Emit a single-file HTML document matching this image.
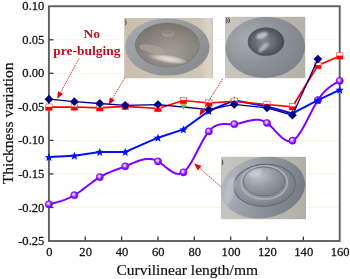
<!DOCTYPE html>
<html><head><meta charset="utf-8"><style>
html,body{margin:0;padding:0;background:#fff;width:350px;height:279px;overflow:hidden}
svg{display:block;will-change:transform}
text{font-family:"Liberation Serif",serif}
</style></head><body>
<svg width="350" height="279" viewBox="0 0 350 279">

<defs>
<clipPath id="cp1"><rect x="124.1" y="18" width="89" height="60.5"/></clipPath>
<clipPath id="cp2"><rect x="225" y="16.6" width="80.5" height="61.8"/></clipPath>
<clipPath id="cp3"><rect x="221" y="156.6" width="85.2" height="62.8"/></clipPath>
<filter id="blur1" x="-50%" y="-50%" width="200%" height="200%"><feGaussianBlur stdDeviation="1.1"/></filter>
<filter id="blur2" x="-20%" y="-20%" width="140%" height="140%"><feGaussianBlur stdDeviation="0.7"/></filter>
<linearGradient id="bg1" x1="0" y1="0" x2="1" y2="0"><stop offset="0" stop-color="#cabfaf"/><stop offset="0.85" stop-color="#cfc4b5"/><stop offset="0.95" stop-color="#dcd4c8"/><stop offset="1" stop-color="#d0c6b8"/></linearGradient>
<linearGradient id="rim1" x1="0" y1="0.2" x2="0.9" y2="1"><stop offset="0" stop-color="#a5aaae"/><stop offset="0.5" stop-color="#96989a"/><stop offset="1" stop-color="#878a8d"/></linearGradient>
<radialGradient id="bowl1" cx="0.55" cy="0.65" r="0.7"><stop offset="0" stop-color="#a29e95"/><stop offset="0.55" stop-color="#8b8780"/><stop offset="1" stop-color="#75716b"/></radialGradient>
<linearGradient id="cres1" x1="0" y1="0" x2="1" y2="0"><stop offset="0" stop-color="#9a9892"/><stop offset="0.2" stop-color="#c9c5ba"/><stop offset="0.5" stop-color="#e4e0d5"/><stop offset="0.8" stop-color="#c9c5ba"/><stop offset="1" stop-color="#9a9892"/></linearGradient>
<radialGradient id="hl1" cx="0.6" cy="0.5" r="0.5"><stop offset="0" stop-color="#e8e3d8"/><stop offset="0.5" stop-color="#d6d1c5" stop-opacity="0.85"/><stop offset="1" stop-color="#c0bcb0" stop-opacity="0"/></radialGradient>
<linearGradient id="bg2" x1="0" y1="0" x2="1" y2="0"><stop offset="0" stop-color="#c8c6c0"/><stop offset="1" stop-color="#b4b1a6"/></linearGradient>
<radialGradient id="rim2" cx="0.3" cy="0.35" r="0.85"><stop offset="0" stop-color="#a7acb2"/><stop offset="0.45" stop-color="#8f949a"/><stop offset="0.85" stop-color="#7e848b"/><stop offset="1" stop-color="#6f757c"/></radialGradient>
<radialGradient id="bowl2" cx="0.45" cy="0.5" r="0.55"><stop offset="0" stop-color="#858a91"/><stop offset="0.6" stop-color="#62676e"/><stop offset="1" stop-color="#454a51"/></radialGradient>
<linearGradient id="bg3" x1="0" y1="0" x2="1" y2="0"><stop offset="0" stop-color="#c6c5c0"/><stop offset="1" stop-color="#b0aea5"/></linearGradient>
<linearGradient id="rim3" x1="0" y1="0.3" x2="1" y2="0.7"><stop offset="0" stop-color="#b2b9c1"/><stop offset="0.45" stop-color="#92989f"/><stop offset="1" stop-color="#737980"/></linearGradient>
<radialGradient id="ring3" cx="0.4" cy="0.4" r="0.65"><stop offset="0.5" stop-color="#979da4"/><stop offset="1" stop-color="#737980"/></radialGradient>
<radialGradient id="bowl3" cx="0.35" cy="0.3" r="0.8"><stop offset="0" stop-color="#c0c5ca"/><stop offset="0.5" stop-color="#959ba1"/><stop offset="1" stop-color="#767c83"/></radialGradient>
<radialGradient id="ball" cx="0.42" cy="0.4" r="0.6"><stop offset="0" stop-color="#f4ecff"/><stop offset="0.25" stop-color="#d0b0ff"/><stop offset="0.55" stop-color="#9030ff"/><stop offset="0.85" stop-color="#8000ff"/><stop offset="1" stop-color="#6c00d8"/></radialGradient>
</defs>
<rect width="350" height="279" fill="#fff"/>
<g stroke="#f5f5e8" stroke-width="1"><line x1="49.9" x2="338.7" y1="39.79" y2="39.79"/><line x1="49.9" x2="338.7" y1="73.32" y2="73.32"/><line x1="49.9" x2="338.7" y1="106.86" y2="106.86"/><line x1="49.9" x2="338.7" y1="140.39" y2="140.39"/><line x1="49.9" x2="338.7" y1="173.93" y2="173.93"/><line x1="49.9" x2="338.7" y1="207.46" y2="207.46"/></g>

<g clip-path="url(#cp1)">
<rect x="124.1" y="18" width="89" height="60.5" fill="url(#bg1)"/>
<ellipse cx="167.4" cy="47" rx="42.2" ry="28.6" fill="url(#rim1)"/>
<ellipse cx="167.4" cy="45" rx="32" ry="22" fill="url(#bowl1)" stroke="#7b7873" stroke-width="0.8"/>
<ellipse cx="164" cy="58.3" rx="23" ry="4.6" fill="url(#hl1)" transform="rotate(9 164 58.3)"/>
<ellipse cx="152" cy="49" rx="13" ry="4" fill="#b2aea5" opacity="0.55" transform="rotate(12 152 49)"/>
<ellipse cx="168" cy="33.5" rx="6" ry="3.5" fill="#a29f99" opacity="0.8"/>
<ellipse cx="168" cy="32" rx="5" ry="2" fill="#7d7a75" opacity="0.6"/>
<text x="124.4" y="23.6" font-size="7" font-weight="bold" fill="#333">)</text>
</g>
<g clip-path="url(#cp2)">
<rect x="225" y="16.6" width="80.5" height="61.8" fill="url(#bg2)"/>
<ellipse cx="265.2" cy="47.4" rx="39.9" ry="30.4" fill="url(#rim2)" transform="rotate(-3 265.2 47.4)"/>
<ellipse cx="266" cy="41.7" rx="18" ry="13.9" fill="url(#bowl2)" stroke="#4a4f56" stroke-width="0.6"/>
<g filter="url(#blur1)"><ellipse cx="262" cy="35.5" rx="6" ry="3" fill="#c8ccd0" opacity="0.85" transform="rotate(-20 262 35.5)"/>
<ellipse cx="263.5" cy="47.5" rx="6.5" ry="2.4" fill="#bfc3c8" opacity="0.8" transform="rotate(-40 263.5 47.5)"/></g>
<text x="225.4" y="22.3" font-size="7" font-weight="bold" fill="#222">))</text>
</g>
<g clip-path="url(#cp3)">
<rect x="221" y="156.6" width="85.2" height="62.8" fill="url(#bg3)"/>
<ellipse cx="263" cy="187.6" rx="42.4" ry="30.4" fill="url(#rim3)" transform="rotate(-10 263 187.6)"/>
<ellipse cx="264.6" cy="185.3" rx="30.8" ry="21" fill="url(#ring3)" stroke="#656b72" stroke-width="1.1" transform="rotate(-4 264.6 185.3)"/>
<ellipse cx="264.2" cy="182.6" rx="23.2" ry="16.5" fill="none" stroke="#adb3b9" stroke-width="1.5"/>
<ellipse cx="264" cy="181.5" rx="20.6" ry="14.5" fill="url(#bowl3)" stroke="#6a7077" stroke-width="0.9"/>
<g filter="url(#blur1)"><ellipse cx="229.5" cy="191" rx="4.5" ry="15" fill="#c3cad1" opacity="0.6" transform="rotate(15 229.5 191)"/>
<ellipse cx="255" cy="173" rx="7" ry="3.5" fill="#d0d4d8" opacity="0.6" transform="rotate(-20 255 173)"/></g>
<text x="221.2" y="163.5" font-size="7" font-weight="bold" fill="#333">)</text>
</g>
<g stroke="#333" stroke-width="1.3"><line x1="48.9" x2="53.4" y1="39.79" y2="39.79"/><line x1="48.9" x2="53.4" y1="73.32" y2="73.32"/><line x1="48.9" x2="53.4" y1="106.86" y2="106.86"/><line x1="48.9" x2="53.4" y1="140.39" y2="140.39"/><line x1="48.9" x2="53.4" y1="173.93" y2="173.93"/><line x1="48.9" x2="53.4" y1="207.46" y2="207.46"/><line x1="85.25" x2="85.25" y1="241.0" y2="236.5"/><line x1="121.60" x2="121.60" y1="241.0" y2="236.5"/><line x1="157.95" x2="157.95" y1="241.0" y2="236.5"/><line x1="194.30" x2="194.30" y1="241.0" y2="236.5"/><line x1="230.65" x2="230.65" y1="241.0" y2="236.5"/><line x1="267.00" x2="267.00" y1="241.0" y2="236.5"/><line x1="303.35" x2="303.35" y1="241.0" y2="236.5"/></g>
<rect x="48.9" y="6.25" width="290.80" height="234.75" fill="none" stroke="#5e5e5e" stroke-width="1.9"/>
<g font-family="Liberation Serif" font-size="12.6" fill="#111" stroke="#111" stroke-width="0.25" text-anchor="end"><text transform="translate(44.4,10.35) scale(1,1.04)">0.10</text><text transform="translate(44.4,43.89) scale(1,1.04)">0.05</text><text transform="translate(44.4,77.42) scale(1,1.04)">0.00</text><text transform="translate(44.4,110.96) scale(1,1.04)">-0.05</text><text transform="translate(44.4,144.49) scale(1,1.04)">-0.10</text><text transform="translate(44.4,178.03) scale(1,1.04)">-0.15</text><text transform="translate(44.4,211.56) scale(1,1.04)">-0.20</text><text transform="translate(44.4,245.10) scale(1,1.04)">-0.25</text></g>
<g font-family="Liberation Serif" font-size="12.6" fill="#111" stroke="#111" stroke-width="0.25" text-anchor="middle"><text transform="translate(49.30,255.8) scale(1,1.04)">0</text><text transform="translate(85.65,255.8) scale(1,1.04)">20</text><text transform="translate(122.00,255.8) scale(1,1.04)">40</text><text transform="translate(158.35,255.8) scale(1,1.04)">60</text><text transform="translate(194.70,255.8) scale(1,1.04)">80</text><text transform="translate(231.05,255.8) scale(1,1.04)">100</text><text transform="translate(267.40,255.8) scale(1,1.04)">120</text><text transform="translate(303.75,255.8) scale(1,1.04)">140</text><text transform="translate(340.10,255.8) scale(1,1.04)">160</text></g>
<text x="187.2" y="275.1" font-family="Liberation Serif" font-size="15.5" fill="#111" stroke="#111" stroke-width="0.2" text-anchor="middle">Curvilinear length/mm</text>
<text transform="translate(12.5,123.4) rotate(-90)" font-family="Liberation Serif" font-size="15.5" fill="#111" stroke="#111" stroke-width="0.2" text-anchor="middle">Thickness variation</text>
<g font-family="Liberation Serif" font-weight="bold" font-size="13.5" fill="#bd1020" text-anchor="middle">
<text x="91.8" y="38.3">No</text><text x="86.8" y="54.6">pre-bulging</text></g>
<path d="M48.90,204.30 L51.02,203.79 L53.14,203.26 L55.26,202.72 L57.38,202.15 L59.50,201.53 L61.62,200.86 L63.74,200.13 L65.86,199.33 L67.98,198.45 L70.10,197.47 L72.22,196.39 L74.34,195.20 L76.47,193.89 L78.59,192.47 L80.71,190.98 L82.83,189.41 L84.95,187.81 L87.07,186.18 L89.19,184.56 L91.31,182.95 L93.43,181.38 L95.55,179.87 L97.67,178.43 L99.79,177.10 L101.91,175.88 L104.03,174.77 L106.15,173.75 L108.27,172.80 L110.39,171.92 L112.51,171.08 L114.63,170.28 L116.75,169.50 L118.87,168.73 L120.99,167.95 L123.11,167.14 L125.24,166.30 L127.96,165.15 L130.69,163.97 L133.41,162.81 L136.14,161.71 L138.87,160.73 L141.59,159.91 L144.32,159.32 L147.04,158.99 L149.77,158.99 L152.50,159.35 L155.22,160.14 L157.95,161.40 L160.07,162.72 L162.19,164.26 L164.31,165.94 L166.43,167.67 L168.55,169.35 L170.67,170.90 L172.79,172.22 L174.91,173.23 L177.03,173.83 L179.15,173.93 L181.27,173.45 L183.40,172.30 L185.52,170.41 L187.64,167.87 L189.76,164.80 L191.88,161.29 L194.00,157.47 L196.12,153.45 L198.24,149.33 L200.36,145.25 L202.48,141.30 L204.60,137.60 L206.72,134.26 L208.84,131.40 L210.96,129.10 L213.08,127.32 L215.20,126.00 L217.32,125.08 L219.44,124.48 L221.56,124.16 L223.68,124.03 L225.80,124.05 L227.92,124.14 L230.04,124.23 L232.16,124.28 L234.29,124.20 L237.01,123.86 L239.74,123.29 L242.46,122.58 L245.19,121.81 L247.92,121.06 L250.64,120.40 L253.37,119.92 L256.10,119.70 L258.82,119.82 L261.55,120.35 L264.27,121.39 L267.00,123.00 L269.12,124.68 L271.24,126.67 L273.36,128.84 L275.48,131.12 L277.60,133.39 L279.72,135.56 L281.84,137.52 L283.96,139.17 L286.08,140.42 L288.20,141.15 L290.32,141.28 L292.44,140.70 L294.57,139.34 L296.69,137.28 L298.81,134.60 L300.93,131.43 L303.05,127.85 L305.17,123.98 L307.29,119.91 L309.41,115.74 L311.53,111.59 L313.65,107.54 L315.77,103.71 L317.89,100.20 L319.87,97.27 L321.86,94.68 L323.84,92.38 L325.82,90.35 L327.80,88.55 L329.79,86.96 L331.77,85.53 L333.75,84.23 L335.73,83.03 L337.72,81.90 L339.70,80.80" fill="none" stroke="#8000ff" stroke-width="2"/>
<g fill="url(#ball)" stroke="#8000ff" stroke-width="0.6"><circle cx="48.90" cy="204.30" r="3.6"/><circle cx="74.34" cy="195.20" r="3.6"/><circle cx="99.79" cy="177.10" r="3.6"/><circle cx="125.24" cy="166.30" r="3.6"/><circle cx="157.95" cy="161.40" r="3.6"/><circle cx="183.40" cy="172.30" r="3.6"/><circle cx="208.84" cy="131.40" r="3.6"/><circle cx="234.29" cy="124.20" r="3.6"/><circle cx="267.00" cy="123.00" r="3.6"/><circle cx="292.44" cy="140.70" r="3.6"/><circle cx="317.89" cy="100.20" r="3.6"/><circle cx="339.70" cy="80.80" r="3.6"/></g>
<polyline points="48.90,157.10 74.34,155.70 99.79,152.00 125.24,152.00 157.95,137.70 183.40,129.40 208.84,111.00 234.29,100.30 267.00,106.50 292.44,113.50 317.89,100.20 339.70,89.80" fill="none" stroke="#0010ff" stroke-width="2"/>
<g fill="#0010ff"><polygon points="48.90,153.10 50.02,155.96 53.08,156.14 50.71,158.09 51.49,161.06 48.90,159.40 46.31,161.06 47.09,158.09 44.72,156.14 47.78,155.96"/><polygon points="74.34,151.70 75.46,154.56 78.53,154.74 76.15,156.69 76.93,159.66 74.34,158.00 71.76,159.66 72.54,156.69 70.16,154.74 73.23,154.56"/><polygon points="99.79,148.00 100.91,150.86 103.97,151.04 101.60,152.99 102.38,155.96 99.79,154.30 97.20,155.96 97.98,152.99 95.61,151.04 98.67,150.86"/><polygon points="125.24,148.00 126.35,150.86 129.42,151.04 127.04,152.99 127.82,155.96 125.24,154.30 122.65,155.96 123.43,152.99 121.05,151.04 124.12,150.86"/><polygon points="157.95,133.70 159.07,136.56 162.13,136.74 159.76,138.69 160.54,141.66 157.95,140.00 155.36,141.66 156.14,138.69 153.77,136.74 156.83,136.56"/><polygon points="183.40,125.40 184.51,128.26 187.58,128.44 185.20,130.39 185.98,133.36 183.40,131.70 180.81,133.36 181.59,130.39 179.21,128.44 182.28,128.26"/><polygon points="208.84,107.00 209.96,109.86 213.02,110.04 210.65,111.99 211.43,114.96 208.84,113.30 206.25,114.96 207.03,111.99 204.66,110.04 207.72,109.86"/><polygon points="234.29,96.30 235.40,99.16 238.47,99.34 236.09,101.29 236.87,104.26 234.29,102.60 231.70,104.26 232.48,101.29 230.10,99.34 233.17,99.16"/><polygon points="267.00,102.50 268.12,105.36 271.18,105.54 268.81,107.49 269.59,110.46 267.00,108.80 264.41,110.46 265.19,107.49 262.82,105.54 265.88,105.36"/><polygon points="292.44,109.50 293.56,112.36 296.63,112.54 294.25,114.49 295.03,117.46 292.44,115.80 289.86,117.46 290.64,114.49 288.26,112.54 291.33,112.36"/><polygon points="317.89,96.20 319.01,99.06 322.07,99.24 319.70,101.19 320.48,104.16 317.89,102.50 315.30,104.16 316.08,101.19 313.71,99.24 316.77,99.06"/><polygon points="339.70,85.80 340.82,88.66 343.88,88.84 341.51,90.79 342.29,93.76 339.70,92.10 337.11,93.76 337.89,90.79 335.52,88.84 338.58,88.66"/></g>
<polyline points="48.90,107.20 74.34,107.00 99.79,107.80 125.24,106.30 157.95,108.50 183.40,100.50 208.84,103.00 234.29,101.30 267.00,104.50 292.44,106.80 317.89,65.50 339.70,56.00" fill="none" stroke="#ff0000" stroke-width="1.7"/>
<rect x="45.70" y="104.00" width="6.4" height="6.4" fill="#fff" stroke="#ff5050" stroke-width="0.7"/><rect x="45.70" y="106.80" width="6.4" height="3.60" fill="#ff0000"/><rect x="71.14" y="103.80" width="6.4" height="6.4" fill="#fff" stroke="#ff5050" stroke-width="0.7"/><rect x="71.14" y="106.60" width="6.4" height="3.60" fill="#ff0000"/><rect x="96.59" y="104.60" width="6.4" height="6.4" fill="#fff" stroke="#ff5050" stroke-width="0.7"/><rect x="96.59" y="107.40" width="6.4" height="3.60" fill="#ff0000"/><rect x="122.04" y="103.10" width="6.4" height="6.4" fill="#fff" stroke="#ff5050" stroke-width="0.7"/><rect x="122.04" y="105.90" width="6.4" height="3.60" fill="#ff0000"/><rect x="154.75" y="105.30" width="6.4" height="6.4" fill="#fff" stroke="#ff5050" stroke-width="0.7"/><rect x="154.75" y="108.10" width="6.4" height="3.60" fill="#ff0000"/><rect x="180.20" y="97.30" width="6.4" height="6.4" fill="#fff" stroke="#ff5050" stroke-width="0.7"/><rect x="180.20" y="100.10" width="6.4" height="3.60" fill="#ff0000"/><rect x="205.64" y="99.80" width="6.4" height="6.4" fill="#fff" stroke="#ff5050" stroke-width="0.7"/><rect x="205.64" y="102.60" width="6.4" height="3.60" fill="#ff0000"/><rect x="231.09" y="98.10" width="6.4" height="6.4" fill="#fff" stroke="#ff5050" stroke-width="0.7"/><rect x="231.09" y="100.90" width="6.4" height="3.60" fill="#ff0000"/><rect x="263.80" y="101.30" width="6.4" height="6.4" fill="#fff" stroke="#ff5050" stroke-width="0.7"/><rect x="263.80" y="104.10" width="6.4" height="3.60" fill="#ff0000"/><rect x="289.25" y="103.60" width="6.4" height="6.4" fill="#fff" stroke="#ff5050" stroke-width="0.7"/><rect x="289.25" y="106.40" width="6.4" height="3.60" fill="#ff0000"/><rect x="314.69" y="62.30" width="6.4" height="6.4" fill="#fff" stroke="#ff5050" stroke-width="0.7"/><rect x="314.69" y="65.10" width="6.4" height="3.60" fill="#ff0000"/><rect x="336.50" y="52.80" width="6.4" height="6.4" fill="#fff" stroke="#ff5050" stroke-width="0.7"/><rect x="336.50" y="55.60" width="6.4" height="3.60" fill="#ff0000"/>
<polyline points="48.90,99.20 74.34,101.70 99.79,103.50 125.24,105.40 157.95,104.60 183.40,107.00 208.84,109.70 234.29,104.40 267.00,107.80 292.44,115.20 317.89,59.10" fill="none" stroke="#000088" stroke-width="1.3"/>
<g fill="#000080"><path d="M48.90,94.80 L53.30,99.20 L48.90,103.60 L44.50,99.20Z"/><path d="M74.34,97.30 L78.75,101.70 L74.34,106.10 L69.94,101.70Z"/><path d="M99.79,99.10 L104.19,103.50 L99.79,107.90 L95.39,103.50Z"/><path d="M125.24,101.00 L129.64,105.40 L125.24,109.80 L120.84,105.40Z"/><path d="M157.95,100.20 L162.35,104.60 L157.95,109.00 L153.55,104.60Z"/><path d="M208.84,105.30 L213.24,109.70 L208.84,114.10 L204.44,109.70Z"/><path d="M234.29,100.00 L238.69,104.40 L234.29,108.80 L229.89,104.40Z"/><path d="M267.00,103.40 L271.40,107.80 L267.00,112.20 L262.60,107.80Z"/><path d="M292.44,110.80 L296.84,115.20 L292.44,119.60 L288.05,115.20Z"/><path d="M317.89,54.70 L322.29,59.10 L317.89,63.50 L313.49,59.10Z"/></g>
<polygon points="180.20,104.3 186.59,104.3 183.40,109.8" fill="#78b838"/>
<line x1="79" y1="58.4" x2="60.52" y2="92.64" stroke="#e02020" stroke-width="0.9" stroke-dasharray="1.6 0.9"/><polygon points="57.20,98.80 57.97,91.26 63.08,94.02" fill="#e00000"/><line x1="124.7" y1="77.9" x2="112.28" y2="98.78" stroke="#e02020" stroke-width="0.9" stroke-dasharray="1.6 0.9"/><polygon points="108.70,104.80 109.79,97.30 114.77,100.27" fill="#e00000"/><line x1="222.8" y1="78.6" x2="203.22" y2="109.77" stroke="#e02020" stroke-width="0.9" stroke-dasharray="1.6 0.9"/><polygon points="199.50,115.70 200.77,108.23 205.68,111.31" fill="#e00000"/><line x1="221.5" y1="187.2" x2="199.59" y2="168.19" stroke="#e02020" stroke-width="0.9" stroke-dasharray="1.6 0.9"/><polygon points="194.30,163.60 201.49,166.00 197.69,170.38" fill="#e00000"/>
</svg>
</body></html>
